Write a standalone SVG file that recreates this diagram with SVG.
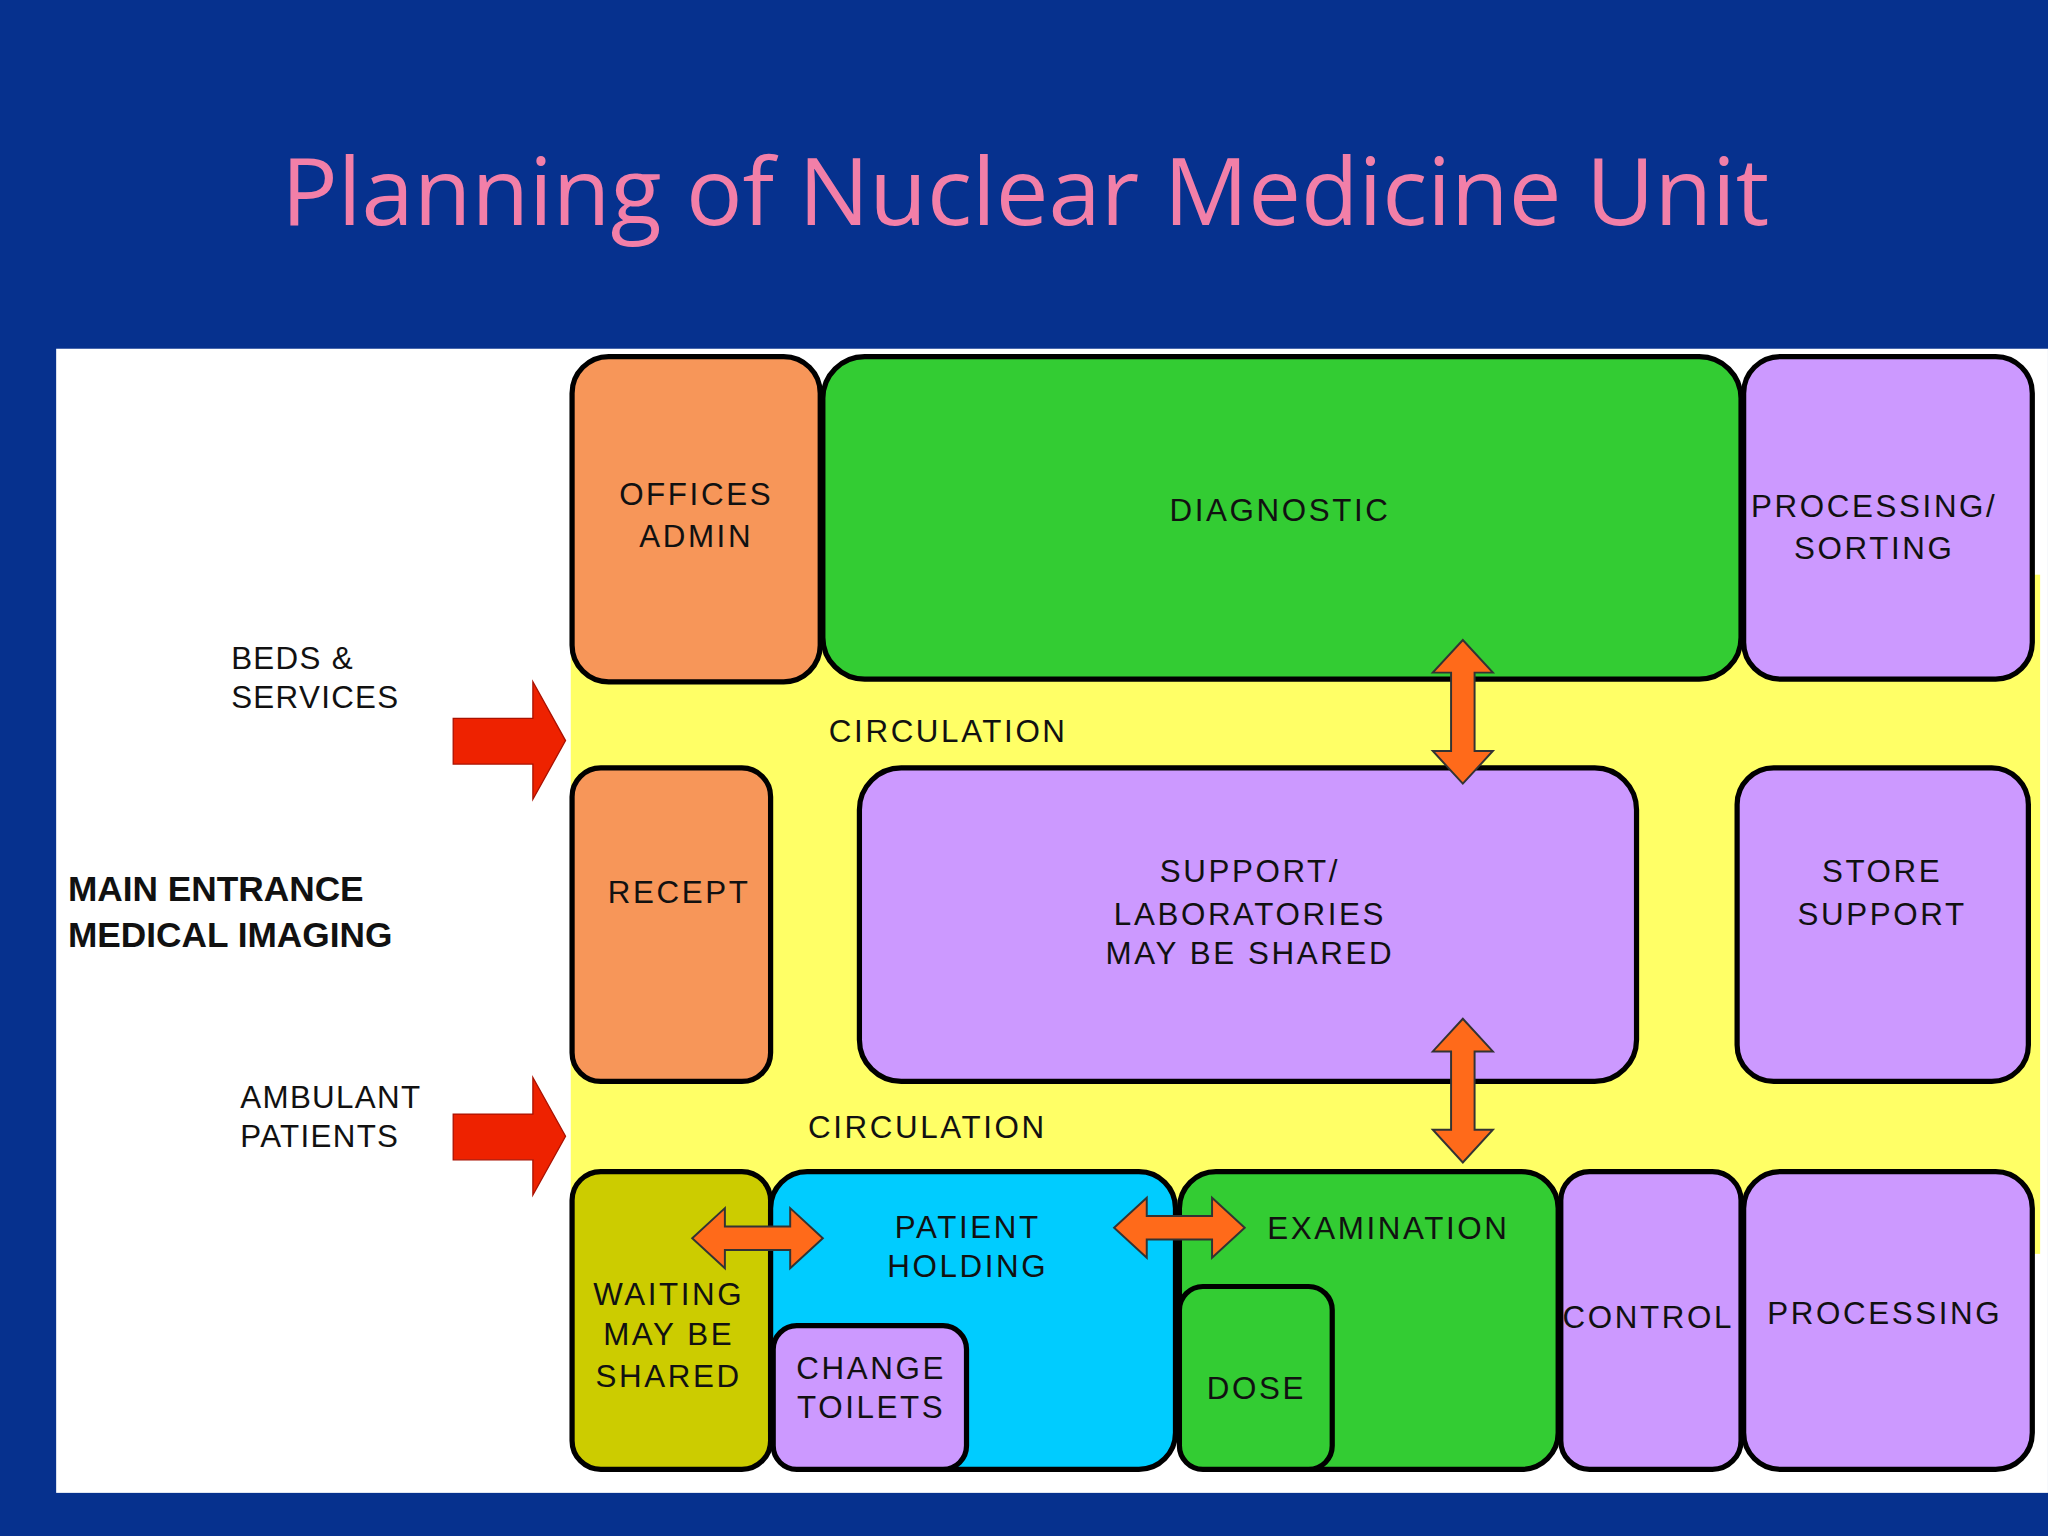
<svg xmlns="http://www.w3.org/2000/svg" width="2048" height="1536" viewBox="0 0 2048 1536">
<defs>
<style>
.n{stroke:#000;stroke-width:4}
.t{font-family:"Liberation Sans",Arial,sans-serif;font-size:24px;fill:#111;text-anchor:middle;letter-spacing:2px}
.l{font-family:"Liberation Sans",Arial,sans-serif;font-size:24px;fill:#111;letter-spacing:1px}
.red{fill:#ee2200;stroke:#aa1100;stroke-width:1}
.or{fill:#ff6a1a;stroke:#333;stroke-width:1.5}
</style>
</defs>
<rect width="2048" height="1536" fill="#06318e"/>
<g transform="scale(1.3061)">
<text x="785" y="172" font-family="Open Sans,Liberation Sans,sans-serif" font-size="72" fill="#f27fa8" text-anchor="middle" style="text-shadow:none">Planning of Nuclear Medicine Unit</text>
<rect x="43" y="267" width="1525" height="876" fill="#fff"/>
<rect x="437" y="440" width="1125" height="520" fill="#ffff66"/>
<g id="offices"><rect class="n" x="438" y="273" width="190" height="249" rx="28" fill="#f79659"/><text class="t" x="533" y="387">OFFICES</text><text class="t" x="533" y="419">ADMIN</text></g>
<g id="diagnostic"><rect class="n" x="630" y="273" width="703" height="247" rx="32" fill="#33cc33"/><text class="t" x="980" y="399">DIAGNOSTIC</text></g>
<g id="processing-sorting"><rect class="n" x="1335" y="273" width="221" height="247" rx="28" fill="#cc99ff"/><text class="t" x="1435" y="396">PROCESSING/</text><text class="t" x="1435" y="428">SORTING</text></g>
<g id="recept"><rect class="n" x="438" y="588" width="152" height="240" rx="22" fill="#f79659"/><text class="t" x="520" y="691">RECEPT</text></g>
<g id="support"><rect class="n" x="658" y="588" width="595" height="240" rx="32" fill="#cc99ff"/><text class="t" x="957" y="675">SUPPORT/</text><text class="t" x="957" y="708">LABORATORIES</text><text class="t" x="957" y="738">MAY BE SHARED</text></g>
<g id="store"><rect class="n" x="1330" y="588" width="223" height="240" rx="28" fill="#cc99ff"/><text class="t" x="1441" y="675">STORE</text><text class="t" x="1441" y="708">SUPPORT</text></g>
<g id="waiting"><rect class="n" x="438" y="897" width="152" height="228" rx="22" fill="#cccc00"/><text class="t" x="512" y="999">WAITING</text><text class="t" x="512" y="1030">MAY BE</text><text class="t" x="512" y="1062">SHARED</text></g>
<g id="holding"><rect class="n" x="590" y="897" width="310" height="228" rx="28" fill="#00ccff"/><text class="t" x="741" y="948">PATIENT</text><text class="t" x="741" y="978">HOLDING</text></g>
<g id="change"><rect class="n" x="592" y="1015" width="148" height="110" rx="18" fill="#cc99ff"/><text class="t" x="667" y="1056">CHANGE</text><text class="t" x="667" y="1086">TOILETS</text></g>
<g id="examination"><rect class="n" x="903" y="897" width="290" height="228" rx="28" fill="#33cc33"/><text class="t" x="1063" y="949">EXAMINATION</text></g>
<g id="dose"><rect class="n" x="903" y="985" width="117" height="140" rx="18" fill="#33cc33"/><text class="t" x="962" y="1071">DOSE</text></g>
<g id="control"><rect class="n" x="1195" y="897" width="138" height="228" rx="22" fill="#cc99ff"/><text class="t" x="1262" y="1017">CONTROL</text></g>
<g id="processing"><rect class="n" x="1335" y="897" width="221" height="228" rx="28" fill="#cc99ff"/><text class="t" x="1443" y="1014">PROCESSING</text></g>
<text class="t" x="726" y="568">CIRCULATION</text>
<text class="t" x="710" y="871">CIRCULATION</text>
<text class="l" x="177" y="512">BEDS &amp;</text><text class="l" x="177" y="542">SERVICES</text>
<text class="l" x="184" y="848">AMBULANT</text><text class="l" x="184" y="878">PATIENTS</text>
<text x="52" y="690" font-family="Liberation Sans,Arial,sans-serif" font-size="27" font-weight="bold" fill="#111">MAIN ENTRANCE</text>
<text x="52" y="725" font-family="Liberation Sans,Arial,sans-serif" font-size="27" font-weight="bold" fill="#111">MEDICAL IMAGING</text>
<g id="connectors">
<polygon class="red" points="347,550 408,550 408,522 433,567 408,612 408,585 347,585"/>
<polygon class="red" points="347,853 408,853 408,825 433,870 408,915 408,888 347,888"/>
<polygon class="or" points="1120,490 1143,515 1129,515 1129,575 1143,575 1120,600 1097,575 1111,575 1111,515 1097,515"/>
<polygon class="or" points="1120,780 1143,805 1129,805 1129,865 1143,865 1120,890 1097,865 1111,865 1111,805 1097,805"/>
<polygon class="or" points="530,948 555,925 555,939 605,939 605,925 630,948 605,971 605,957 555,957 555,971"/>
<polygon class="or" points="853,940 878,917 878,931 928,931 928,917 953,940 928,963 928,949 878,949 878,963"/>
</g>
</g>
</svg>
